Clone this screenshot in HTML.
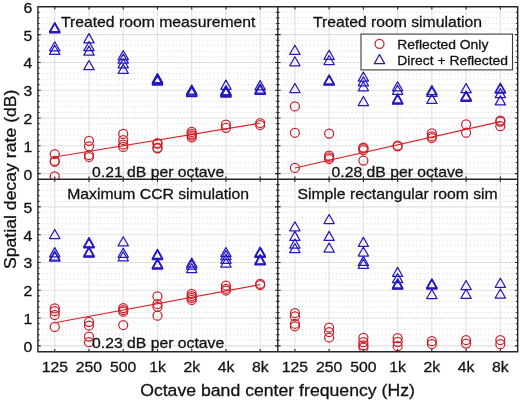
<!DOCTYPE html>
<html lang="en"><head><meta charset="utf-8"><title>Spatial decay rate per octave band</title>
<style>
html,body{margin:0;padding:0;background:#fff}
body{width:520px;height:403px;overflow:hidden}
text{stroke:#111;stroke-width:.3px}
.mj{stroke:#e0e0e0;stroke-width:1.1}
.mn{stroke:#d9d9d9;stroke-width:1;stroke-dasharray:1.2 2.604}
</style></head><body>
<svg width="520" height="403" viewBox="0 0 520 403" style="display:block;font-family:'Liberation Sans',Arial,Helvetica,sans-serif" fill="#111">
<rect width="520" height="403" fill="#fff"/>
<g fill="none"><path class="mn" d="M38.93 168.04H276.80"/><path class="mn" d="M38.93 162.48H276.80"/><path class="mn" d="M38.93 156.93H276.80"/><path class="mn" d="M38.93 151.37H276.80"/><path class="mn" d="M38.93 140.25H276.80"/><path class="mn" d="M38.93 134.69H276.80"/><path class="mn" d="M38.93 129.14H276.80"/><path class="mn" d="M38.93 123.58H276.80"/><path class="mn" d="M38.93 112.46H276.80"/><path class="mn" d="M38.93 106.90H276.80"/><path class="mn" d="M38.93 101.35H276.80"/><path class="mn" d="M38.93 95.79H276.80"/><path class="mn" d="M38.93 84.67H276.80"/><path class="mn" d="M38.93 79.11H276.80"/><path class="mn" d="M38.93 73.56H276.80"/><path class="mn" d="M38.93 68.00H276.80"/><path class="mn" d="M38.93 56.88H276.80"/><path class="mn" d="M38.93 51.32H276.80"/><path class="mn" d="M38.93 45.77H276.80"/><path class="mn" d="M38.93 40.21H276.80"/><path class="mn" d="M38.93 29.09H276.80"/><path class="mn" d="M38.93 23.53H276.80"/><path class="mn" d="M38.93 17.98H276.80"/><path class="mn" d="M38.93 12.42H276.80"/><path class="mj" d="M37.90 173.60H277.80"/><path class="mj" d="M37.90 145.81H277.80"/><path class="mj" d="M37.90 118.02H277.80"/><path class="mj" d="M37.90 90.23H277.80"/><path class="mj" d="M37.90 62.44H277.80"/><path class="mj" d="M37.90 34.65H277.80"/><path class="mj" d="M54.75 6.80V179.30"/><path class="mj" d="M88.99 6.80V179.30"/><path class="mj" d="M123.23 6.80V179.30"/><path class="mj" d="M157.47 6.80V179.30"/><path class="mj" d="M191.71 6.80V179.30"/><path class="mj" d="M225.95 6.80V179.30"/><path class="mj" d="M260.19 6.80V179.30"/><path class="mn" d="M38.93 340.29H276.80"/><path class="mn" d="M38.93 334.73H276.80"/><path class="mn" d="M38.93 329.18H276.80"/><path class="mn" d="M38.93 323.62H276.80"/><path class="mn" d="M38.93 312.50H276.80"/><path class="mn" d="M38.93 306.94H276.80"/><path class="mn" d="M38.93 301.39H276.80"/><path class="mn" d="M38.93 295.83H276.80"/><path class="mn" d="M38.93 284.71H276.80"/><path class="mn" d="M38.93 279.15H276.80"/><path class="mn" d="M38.93 273.60H276.80"/><path class="mn" d="M38.93 268.04H276.80"/><path class="mn" d="M38.93 256.92H276.80"/><path class="mn" d="M38.93 251.36H276.80"/><path class="mn" d="M38.93 245.81H276.80"/><path class="mn" d="M38.93 240.25H276.80"/><path class="mn" d="M38.93 229.13H276.80"/><path class="mn" d="M38.93 223.57H276.80"/><path class="mn" d="M38.93 218.02H276.80"/><path class="mn" d="M38.93 212.46H276.80"/><path class="mn" d="M38.93 201.34H276.80"/><path class="mn" d="M38.93 195.78H276.80"/><path class="mn" d="M38.93 190.23H276.80"/><path class="mn" d="M38.93 184.67H276.80"/><path class="mj" d="M37.90 345.85H277.80"/><path class="mj" d="M37.90 318.06H277.80"/><path class="mj" d="M37.90 290.27H277.80"/><path class="mj" d="M37.90 262.48H277.80"/><path class="mj" d="M37.90 234.69H277.80"/><path class="mj" d="M37.90 206.90H277.80"/><path class="mj" d="M54.75 179.30V351.80"/><path class="mj" d="M88.99 179.30V351.80"/><path class="mj" d="M123.23 179.30V351.80"/><path class="mj" d="M157.47 179.30V351.80"/><path class="mj" d="M191.71 179.30V351.80"/><path class="mj" d="M225.95 179.30V351.80"/><path class="mj" d="M260.19 179.30V351.80"/><path class="mn" d="M279.08 168.04H516.70"/><path class="mn" d="M279.08 162.48H516.70"/><path class="mn" d="M279.08 156.93H516.70"/><path class="mn" d="M279.08 151.37H516.70"/><path class="mn" d="M279.08 140.25H516.70"/><path class="mn" d="M279.08 134.69H516.70"/><path class="mn" d="M279.08 129.14H516.70"/><path class="mn" d="M279.08 123.58H516.70"/><path class="mn" d="M279.08 112.46H516.70"/><path class="mn" d="M279.08 106.90H516.70"/><path class="mn" d="M279.08 101.35H516.70"/><path class="mn" d="M279.08 95.79H516.70"/><path class="mn" d="M279.08 84.67H516.70"/><path class="mn" d="M279.08 79.11H516.70"/><path class="mn" d="M279.08 73.56H516.70"/><path class="mn" d="M279.08 68.00H516.70"/><path class="mn" d="M279.08 56.88H516.70"/><path class="mn" d="M279.08 51.32H516.70"/><path class="mn" d="M279.08 45.77H516.70"/><path class="mn" d="M279.08 40.21H516.70"/><path class="mn" d="M279.08 29.09H516.70"/><path class="mn" d="M279.08 23.53H516.70"/><path class="mn" d="M279.08 17.98H516.70"/><path class="mn" d="M279.08 12.42H516.70"/><path class="mj" d="M277.80 173.60H517.70"/><path class="mj" d="M277.80 145.81H517.70"/><path class="mj" d="M277.80 118.02H517.70"/><path class="mj" d="M277.80 90.23H517.70"/><path class="mj" d="M277.80 62.44H517.70"/><path class="mj" d="M277.80 34.65H517.70"/><path class="mj" d="M294.90 6.80V179.30"/><path class="mj" d="M329.14 6.80V179.30"/><path class="mj" d="M363.38 6.80V179.30"/><path class="mj" d="M397.62 6.80V179.30"/><path class="mj" d="M431.86 6.80V179.30"/><path class="mj" d="M466.10 6.80V179.30"/><path class="mj" d="M500.34 6.80V179.30"/><path class="mn" d="M279.08 340.29H516.70"/><path class="mn" d="M279.08 334.73H516.70"/><path class="mn" d="M279.08 329.18H516.70"/><path class="mn" d="M279.08 323.62H516.70"/><path class="mn" d="M279.08 312.50H516.70"/><path class="mn" d="M279.08 306.94H516.70"/><path class="mn" d="M279.08 301.39H516.70"/><path class="mn" d="M279.08 295.83H516.70"/><path class="mn" d="M279.08 284.71H516.70"/><path class="mn" d="M279.08 279.15H516.70"/><path class="mn" d="M279.08 273.60H516.70"/><path class="mn" d="M279.08 268.04H516.70"/><path class="mn" d="M279.08 256.92H516.70"/><path class="mn" d="M279.08 251.36H516.70"/><path class="mn" d="M279.08 245.81H516.70"/><path class="mn" d="M279.08 240.25H516.70"/><path class="mn" d="M279.08 229.13H516.70"/><path class="mn" d="M279.08 223.57H516.70"/><path class="mn" d="M279.08 218.02H516.70"/><path class="mn" d="M279.08 212.46H516.70"/><path class="mn" d="M279.08 201.34H516.70"/><path class="mn" d="M279.08 195.78H516.70"/><path class="mn" d="M279.08 190.23H516.70"/><path class="mn" d="M279.08 184.67H516.70"/><path class="mj" d="M277.80 345.85H517.70"/><path class="mj" d="M277.80 318.06H517.70"/><path class="mj" d="M277.80 290.27H517.70"/><path class="mj" d="M277.80 262.48H517.70"/><path class="mj" d="M277.80 234.69H517.70"/><path class="mj" d="M277.80 206.90H517.70"/><path class="mj" d="M294.90 179.30V351.80"/><path class="mj" d="M329.14 179.30V351.80"/><path class="mj" d="M363.38 179.30V351.80"/><path class="mj" d="M397.62 179.30V351.80"/><path class="mj" d="M431.86 179.30V351.80"/><path class="mj" d="M466.10 179.30V351.80"/><path class="mj" d="M500.34 179.30V351.80"/></g>
<path d="M54.75 157.0L260.19 123.25" stroke="#dc2029" stroke-width="1.15" fill="none"/>
<path d="M294.90 168.0L500.34 121.6" stroke="#dc2029" stroke-width="1.15" fill="none"/>
<path d="M54.75 322.8L260.19 284.6" stroke="#dc2029" stroke-width="1.15" fill="none"/>
<defs><clipPath id="cTL"><rect x="37.9" y="6.8" width="239.90" height="172.50"/></clipPath><clipPath id="cTR"><rect x="277.8" y="6.8" width="239.90" height="172.50"/></clipPath><clipPath id="cBL"><rect x="37.9" y="179.3" width="239.90" height="172.50"/></clipPath><clipPath id="cBR"><rect x="277.8" y="179.3" width="239.90" height="172.50"/></clipPath></defs>
<g fill="none" stroke="#2418c0" stroke-width="1.25" stroke-linejoin="round"><g clip-path="url(#cTL)"><path d="M49.60 31.65L54.75 22.55L59.90 31.65Z"/><path d="M49.60 32.25L54.75 23.15L59.90 32.25Z"/><path d="M49.60 32.85L54.75 23.75L59.90 32.85Z"/><path d="M49.60 50.80L54.75 41.70L59.90 50.80Z"/><path d="M49.60 54.30L54.75 45.20L59.90 54.30Z"/><path d="M83.84 42.75L88.99 33.65L94.14 42.75Z"/><path d="M83.84 50.65L88.99 41.55L94.14 50.65Z"/><path d="M83.84 55.15L88.99 46.05L94.14 55.15Z"/><path d="M83.84 69.65L88.99 60.55L94.14 69.65Z"/><path d="M118.08 59.65L123.23 50.55L128.38 59.65Z"/><path d="M118.08 63.15L123.23 54.05L128.38 63.15Z"/><path d="M118.08 67.75L123.23 58.65L128.38 67.75Z"/><path d="M118.08 73.45L123.23 64.35L128.38 73.45Z"/><path d="M152.32 82.65L157.47 73.55L162.62 82.65Z"/><path d="M152.32 83.45L157.47 74.35L162.62 83.45Z"/><path d="M152.32 84.25L157.47 75.15L162.62 84.25Z"/><path d="M152.32 85.05L157.47 75.95L162.62 85.05Z"/><path d="M186.56 94.15L191.71 85.05L196.86 94.15Z"/><path d="M186.56 94.95L191.71 85.85L196.86 94.95Z"/><path d="M186.56 95.75L191.71 86.65L196.86 95.75Z"/><path d="M186.56 96.55L191.71 87.45L196.86 96.55Z"/><path d="M220.80 89.25L225.95 80.15L231.10 89.25Z"/><path d="M220.80 94.65L225.95 85.55L231.10 94.65Z"/><path d="M220.80 95.45L225.95 86.35L231.10 95.45Z"/><path d="M220.80 96.25L225.95 87.15L231.10 96.25Z"/><path d="M220.80 97.05L225.95 87.95L231.10 97.05Z"/><path d="M255.04 89.75L260.19 80.65L265.34 89.75Z"/><path d="M255.04 93.15L260.19 84.05L265.34 93.15Z"/><path d="M255.04 93.75L260.19 84.65L265.34 93.75Z"/><path d="M255.04 94.35L260.19 85.25L265.34 94.35Z"/></g><g clip-path="url(#cTR)"><path d="M289.75 54.30L294.90 45.20L300.05 54.30Z"/><path d="M289.75 65.80L294.90 56.70L300.05 65.80Z"/><path d="M289.75 92.55L294.90 83.45L300.05 92.55Z"/><path d="M323.99 59.30L329.14 50.20L334.29 59.30Z"/><path d="M323.99 64.55L329.14 55.45L334.29 64.55Z"/><path d="M323.99 83.95L329.14 74.85L334.29 83.95Z"/><path d="M323.99 84.55L329.14 75.45L334.29 84.55Z"/><path d="M323.99 85.15L329.14 76.05L334.29 85.15Z"/><path d="M358.23 81.15L363.38 72.05L368.53 81.15Z"/><path d="M358.23 85.80L363.38 76.70L368.53 85.80Z"/><path d="M358.23 90.80L363.38 81.70L368.53 90.80Z"/><path d="M358.23 105.55L363.38 96.45L368.53 105.55Z"/><path d="M392.47 90.80L397.62 81.70L402.77 90.80Z"/><path d="M392.47 94.30L397.62 85.20L402.77 94.30Z"/><path d="M392.47 102.95L397.62 93.85L402.77 102.95Z"/><path d="M392.47 103.55L397.62 94.45L402.77 103.55Z"/><path d="M392.47 104.15L397.62 95.05L402.77 104.15Z"/><path d="M426.71 94.65L431.86 85.55L437.01 94.65Z"/><path d="M426.71 96.35L431.86 87.25L437.01 96.35Z"/><path d="M426.71 103.45L431.86 94.35L437.01 103.45Z"/><path d="M460.95 92.65L466.10 83.55L471.25 92.65Z"/><path d="M460.95 100.05L466.10 90.95L471.25 100.05Z"/><path d="M460.95 100.65L466.10 91.55L471.25 100.65Z"/><path d="M460.95 101.25L466.10 92.15L471.25 101.25Z"/><path d="M495.19 92.25L500.34 83.15L505.49 92.25Z"/><path d="M495.19 93.15L500.34 84.05L505.49 93.15Z"/><path d="M495.19 97.65L500.34 88.55L505.49 97.65Z"/><path d="M495.19 104.85L500.34 95.75L505.49 104.85Z"/></g><g clip-path="url(#cBL)"><path d="M49.60 238.55L54.75 229.45L59.90 238.55Z"/><path d="M49.60 256.75L54.75 247.65L59.90 256.75Z"/><path d="M49.60 260.05L54.75 250.95L59.90 260.05Z"/><path d="M49.60 261.15L54.75 252.05L59.90 261.15Z"/><path d="M83.84 246.75L88.99 237.65L94.14 246.75Z"/><path d="M83.84 247.35L88.99 238.25L94.14 247.35Z"/><path d="M83.84 247.95L88.99 238.85L94.14 247.95Z"/><path d="M83.84 255.95L88.99 246.85L94.14 255.95Z"/><path d="M83.84 256.55L88.99 247.45L94.14 256.55Z"/><path d="M83.84 257.15L88.99 248.05L94.14 257.15Z"/><path d="M118.08 245.80L123.23 236.70L128.38 245.80Z"/><path d="M118.08 257.30L123.23 248.20L128.38 257.30Z"/><path d="M118.08 260.80L123.23 251.70L128.38 260.80Z"/><path d="M152.32 258.45L157.47 249.35L162.62 258.45Z"/><path d="M152.32 259.05L157.47 249.95L162.62 259.05Z"/><path d="M152.32 259.65L157.47 250.55L162.62 259.65Z"/><path d="M152.32 267.85L157.47 258.75L162.62 267.85Z"/><path d="M152.32 268.45L157.47 259.35L162.62 268.45Z"/><path d="M152.32 269.05L157.47 259.95L162.62 269.05Z"/><path d="M186.56 267.05L191.71 257.95L196.86 267.05Z"/><path d="M186.56 269.05L191.71 259.95L196.86 269.05Z"/><path d="M186.56 272.55L191.71 263.45L196.86 272.55Z"/><path d="M220.80 256.55L225.95 247.45L231.10 256.55Z"/><path d="M220.80 259.55L225.95 250.45L231.10 259.55Z"/><path d="M220.80 263.30L225.95 254.20L231.10 263.30Z"/><path d="M220.80 267.05L225.95 257.95L231.10 267.05Z"/><path d="M255.04 256.15L260.19 247.05L265.34 256.15Z"/><path d="M255.04 256.75L260.19 247.65L265.34 256.75Z"/><path d="M255.04 257.35L260.19 248.25L265.34 257.35Z"/><path d="M255.04 263.75L260.19 254.65L265.34 263.75Z"/><path d="M255.04 264.35L260.19 255.25L265.34 264.35Z"/><path d="M255.04 264.95L260.19 255.85L265.34 264.95Z"/></g><g clip-path="url(#cBR)"><path d="M289.75 230.80L294.90 221.70L300.05 230.80Z"/><path d="M289.75 240.45L294.90 231.35L300.05 240.45Z"/><path d="M289.75 248.05L294.90 238.95L300.05 248.05Z"/><path d="M289.75 252.55L294.90 243.45L300.05 252.55Z"/><path d="M323.99 223.55L329.14 214.45L334.29 223.55Z"/><path d="M323.99 240.45L329.14 231.35L334.29 240.45Z"/><path d="M323.99 252.05L329.14 242.95L334.29 252.05Z"/><path d="M358.23 246.45L363.38 237.35L368.53 246.45Z"/><path d="M358.23 256.05L363.38 246.95L368.53 256.05Z"/><path d="M358.23 265.45L363.38 256.35L368.53 265.45Z"/><path d="M358.23 268.30L363.38 259.20L368.53 268.30Z"/><path d="M392.47 276.45L397.62 267.35L402.77 276.45Z"/><path d="M392.47 282.65L397.62 273.55L402.77 282.65Z"/><path d="M392.47 287.95L397.62 278.85L402.77 287.95Z"/><path d="M392.47 288.55L397.62 279.45L402.77 288.55Z"/><path d="M392.47 289.15L397.62 280.05L402.77 289.15Z"/><path d="M426.71 287.85L431.86 278.75L437.01 287.85Z"/><path d="M426.71 288.45L431.86 279.35L437.01 288.45Z"/><path d="M426.71 289.05L431.86 279.95L437.01 289.05Z"/><path d="M426.71 298.55L431.86 289.45L437.01 298.55Z"/><path d="M460.95 289.55L466.10 280.45L471.25 289.55Z"/><path d="M460.95 298.30L466.10 289.20L471.25 298.30Z"/><path d="M495.19 287.30L500.34 278.20L505.49 287.30Z"/><path d="M495.19 298.05L500.34 288.95L505.49 298.05Z"/></g></g>
<g fill="none" stroke="#cc1f2b" stroke-width="1.25"><g clip-path="url(#cTL)"><circle cx="54.75" cy="154.00" r="4.5"/><circle cx="54.75" cy="160.90" r="4.5"/><circle cx="54.75" cy="161.60" r="4.5"/><circle cx="54.75" cy="176.40" r="4.5"/><circle cx="88.99" cy="140.80" r="4.5"/><circle cx="88.99" cy="146.25" r="4.5"/><circle cx="88.99" cy="155.00" r="4.5"/><circle cx="88.99" cy="157.00" r="4.5"/><circle cx="123.23" cy="133.90" r="4.5"/><circle cx="123.23" cy="140.00" r="4.5"/><circle cx="123.23" cy="144.50" r="4.5"/><circle cx="123.23" cy="146.90" r="4.5"/><circle cx="157.47" cy="143.00" r="4.5"/><circle cx="157.47" cy="143.60" r="4.5"/><circle cx="157.47" cy="147.70" r="4.5"/><circle cx="157.47" cy="148.30" r="4.5"/><circle cx="191.71" cy="131.90" r="4.5"/><circle cx="191.71" cy="133.80" r="4.5"/><circle cx="191.71" cy="135.60" r="4.5"/><circle cx="191.71" cy="137.40" r="4.5"/><circle cx="225.95" cy="124.70" r="4.5"/><circle cx="225.95" cy="127.80" r="4.5"/><circle cx="260.19" cy="123.00" r="4.5"/><circle cx="260.19" cy="125.00" r="4.5"/></g><g clip-path="url(#cTR)"><circle cx="294.90" cy="106.40" r="4.5"/><circle cx="294.90" cy="132.75" r="4.5"/><circle cx="294.90" cy="167.90" r="4.5"/><circle cx="329.14" cy="133.60" r="4.5"/><circle cx="329.14" cy="155.70" r="4.5"/><circle cx="329.14" cy="157.40" r="4.5"/><circle cx="329.14" cy="159.00" r="4.5"/><circle cx="363.38" cy="147.60" r="4.5"/><circle cx="363.38" cy="148.40" r="4.5"/><circle cx="363.38" cy="150.20" r="4.5"/><circle cx="363.38" cy="160.60" r="4.5"/><circle cx="397.62" cy="145.50" r="4.5"/><circle cx="397.62" cy="146.30" r="4.5"/><circle cx="431.86" cy="133.25" r="4.5"/><circle cx="431.86" cy="136.25" r="4.5"/><circle cx="431.86" cy="138.00" r="4.5"/><circle cx="466.10" cy="124.40" r="4.5"/><circle cx="466.10" cy="132.70" r="4.5"/><circle cx="500.34" cy="120.60" r="4.5"/><circle cx="500.34" cy="121.60" r="4.5"/><circle cx="500.34" cy="126.20" r="4.5"/></g><g clip-path="url(#cBL)"><circle cx="54.75" cy="308.40" r="4.5"/><circle cx="54.75" cy="311.20" r="4.5"/><circle cx="54.75" cy="315.00" r="4.5"/><circle cx="54.75" cy="326.90" r="4.5"/><circle cx="88.99" cy="321.80" r="4.5"/><circle cx="88.99" cy="325.50" r="4.5"/><circle cx="88.99" cy="336.60" r="4.5"/><circle cx="88.99" cy="342.20" r="4.5"/><circle cx="123.23" cy="308.10" r="4.5"/><circle cx="123.23" cy="310.00" r="4.5"/><circle cx="123.23" cy="311.70" r="4.5"/><circle cx="123.23" cy="325.00" r="4.5"/><circle cx="157.47" cy="296.30" r="4.5"/><circle cx="157.47" cy="304.00" r="4.5"/><circle cx="157.47" cy="306.80" r="4.5"/><circle cx="157.47" cy="315.70" r="4.5"/><circle cx="191.71" cy="293.90" r="4.5"/><circle cx="191.71" cy="296.00" r="4.5"/><circle cx="191.71" cy="297.80" r="4.5"/><circle cx="191.71" cy="299.90" r="4.5"/><circle cx="225.95" cy="285.50" r="4.5"/><circle cx="225.95" cy="288.75" r="4.5"/><circle cx="225.95" cy="290.50" r="4.5"/><circle cx="260.19" cy="283.75" r="4.5"/><circle cx="260.19" cy="285.00" r="4.5"/></g><g clip-path="url(#cBR)"><circle cx="294.90" cy="313.00" r="4.5"/><circle cx="294.90" cy="316.25" r="4.5"/><circle cx="294.90" cy="323.75" r="4.5"/><circle cx="294.90" cy="326.25" r="4.5"/><circle cx="329.14" cy="327.50" r="4.5"/><circle cx="329.14" cy="332.00" r="4.5"/><circle cx="329.14" cy="337.50" r="4.5"/><circle cx="363.38" cy="337.80" r="4.5"/><circle cx="363.38" cy="342.20" r="4.5"/><circle cx="363.38" cy="345.30" r="4.5"/><circle cx="363.38" cy="347.50" r="4.5"/><circle cx="397.62" cy="338.20" r="4.5"/><circle cx="397.62" cy="341.80" r="4.5"/><circle cx="397.62" cy="346.20" r="4.5"/><circle cx="431.86" cy="341.20" r="4.5"/><circle cx="431.86" cy="344.00" r="4.5"/><circle cx="466.10" cy="340.00" r="4.5"/><circle cx="466.10" cy="343.60" r="4.5"/><circle cx="500.34" cy="340.00" r="4.5"/><circle cx="500.34" cy="344.20" r="4.5"/></g></g>
<path fill="none" stroke="#262626" stroke-width="1.4" d="M37.9 6.8H517.7V351.8H37.9Z M277.8 6.8V351.8 M37.9 179.3H517.7"/>
<g fill="none" stroke="#262626" stroke-width="1.1"><path d="M54.75 6.8v2.8 M54.75 176.5v5.6 M54.75 351.8v-2.8"/><path d="M88.99 6.8v2.8 M88.99 176.5v5.6 M88.99 351.8v-2.8"/><path d="M123.23 6.8v2.8 M123.23 176.5v5.6 M123.23 351.8v-2.8"/><path d="M157.47 6.8v2.8 M157.47 176.5v5.6 M157.47 351.8v-2.8"/><path d="M191.71 6.8v2.8 M191.71 176.5v5.6 M191.71 351.8v-2.8"/><path d="M225.95 6.8v2.8 M225.95 176.5v5.6 M225.95 351.8v-2.8"/><path d="M260.19 6.8v2.8 M260.19 176.5v5.6 M260.19 351.8v-2.8"/><path d="M294.90 6.8v2.8 M294.90 176.5v5.6 M294.90 351.8v-2.8"/><path d="M329.14 6.8v2.8 M329.14 176.5v5.6 M329.14 351.8v-2.8"/><path d="M363.38 6.8v2.8 M363.38 176.5v5.6 M363.38 351.8v-2.8"/><path d="M397.62 6.8v2.8 M397.62 176.5v5.6 M397.62 351.8v-2.8"/><path d="M431.86 6.8v2.8 M431.86 176.5v5.6 M431.86 351.8v-2.8"/><path d="M466.10 6.8v2.8 M466.10 176.5v5.6 M466.10 351.8v-2.8"/><path d="M500.34 6.8v2.8 M500.34 176.5v5.6 M500.34 351.8v-2.8"/><path d="M37.9 173.60h2.8 M275.0 173.60h5.6 M517.7 173.60h-2.8"/><path d="M37.9 168.04h1.6 M276.2 168.04h3.2 M517.7 168.04h-1.6"/><path d="M37.9 162.48h1.6 M276.2 162.48h3.2 M517.7 162.48h-1.6"/><path d="M37.9 156.93h1.6 M276.2 156.93h3.2 M517.7 156.93h-1.6"/><path d="M37.9 151.37h1.6 M276.2 151.37h3.2 M517.7 151.37h-1.6"/><path d="M37.9 145.81h2.8 M275.0 145.81h5.6 M517.7 145.81h-2.8"/><path d="M37.9 140.25h1.6 M276.2 140.25h3.2 M517.7 140.25h-1.6"/><path d="M37.9 134.69h1.6 M276.2 134.69h3.2 M517.7 134.69h-1.6"/><path d="M37.9 129.14h1.6 M276.2 129.14h3.2 M517.7 129.14h-1.6"/><path d="M37.9 123.58h1.6 M276.2 123.58h3.2 M517.7 123.58h-1.6"/><path d="M37.9 118.02h2.8 M275.0 118.02h5.6 M517.7 118.02h-2.8"/><path d="M37.9 112.46h1.6 M276.2 112.46h3.2 M517.7 112.46h-1.6"/><path d="M37.9 106.90h1.6 M276.2 106.90h3.2 M517.7 106.90h-1.6"/><path d="M37.9 101.35h1.6 M276.2 101.35h3.2 M517.7 101.35h-1.6"/><path d="M37.9 95.79h1.6 M276.2 95.79h3.2 M517.7 95.79h-1.6"/><path d="M37.9 90.23h2.8 M275.0 90.23h5.6 M517.7 90.23h-2.8"/><path d="M37.9 84.67h1.6 M276.2 84.67h3.2 M517.7 84.67h-1.6"/><path d="M37.9 79.11h1.6 M276.2 79.11h3.2 M517.7 79.11h-1.6"/><path d="M37.9 73.56h1.6 M276.2 73.56h3.2 M517.7 73.56h-1.6"/><path d="M37.9 68.00h1.6 M276.2 68.00h3.2 M517.7 68.00h-1.6"/><path d="M37.9 62.44h2.8 M275.0 62.44h5.6 M517.7 62.44h-2.8"/><path d="M37.9 56.88h1.6 M276.2 56.88h3.2 M517.7 56.88h-1.6"/><path d="M37.9 51.32h1.6 M276.2 51.32h3.2 M517.7 51.32h-1.6"/><path d="M37.9 45.77h1.6 M276.2 45.77h3.2 M517.7 45.77h-1.6"/><path d="M37.9 40.21h1.6 M276.2 40.21h3.2 M517.7 40.21h-1.6"/><path d="M37.9 34.65h2.8 M275.0 34.65h5.6 M517.7 34.65h-2.8"/><path d="M37.9 29.09h1.6 M276.2 29.09h3.2 M517.7 29.09h-1.6"/><path d="M37.9 23.53h1.6 M276.2 23.53h3.2 M517.7 23.53h-1.6"/><path d="M37.9 17.98h1.6 M276.2 17.98h3.2 M517.7 17.98h-1.6"/><path d="M37.9 12.42h1.6 M276.2 12.42h3.2 M517.7 12.42h-1.6"/><path d="M37.9 345.85h2.8 M275.0 345.85h5.6 M517.7 345.85h-2.8"/><path d="M37.9 340.29h1.6 M276.2 340.29h3.2 M517.7 340.29h-1.6"/><path d="M37.9 334.73h1.6 M276.2 334.73h3.2 M517.7 334.73h-1.6"/><path d="M37.9 329.18h1.6 M276.2 329.18h3.2 M517.7 329.18h-1.6"/><path d="M37.9 323.62h1.6 M276.2 323.62h3.2 M517.7 323.62h-1.6"/><path d="M37.9 318.06h2.8 M275.0 318.06h5.6 M517.7 318.06h-2.8"/><path d="M37.9 312.50h1.6 M276.2 312.50h3.2 M517.7 312.50h-1.6"/><path d="M37.9 306.94h1.6 M276.2 306.94h3.2 M517.7 306.94h-1.6"/><path d="M37.9 301.39h1.6 M276.2 301.39h3.2 M517.7 301.39h-1.6"/><path d="M37.9 295.83h1.6 M276.2 295.83h3.2 M517.7 295.83h-1.6"/><path d="M37.9 290.27h2.8 M275.0 290.27h5.6 M517.7 290.27h-2.8"/><path d="M37.9 284.71h1.6 M276.2 284.71h3.2 M517.7 284.71h-1.6"/><path d="M37.9 279.15h1.6 M276.2 279.15h3.2 M517.7 279.15h-1.6"/><path d="M37.9 273.60h1.6 M276.2 273.60h3.2 M517.7 273.60h-1.6"/><path d="M37.9 268.04h1.6 M276.2 268.04h3.2 M517.7 268.04h-1.6"/><path d="M37.9 262.48h2.8 M275.0 262.48h5.6 M517.7 262.48h-2.8"/><path d="M37.9 256.92h1.6 M276.2 256.92h3.2 M517.7 256.92h-1.6"/><path d="M37.9 251.36h1.6 M276.2 251.36h3.2 M517.7 251.36h-1.6"/><path d="M37.9 245.81h1.6 M276.2 245.81h3.2 M517.7 245.81h-1.6"/><path d="M37.9 240.25h1.6 M276.2 240.25h3.2 M517.7 240.25h-1.6"/><path d="M37.9 234.69h2.8 M275.0 234.69h5.6 M517.7 234.69h-2.8"/><path d="M37.9 229.13h1.6 M276.2 229.13h3.2 M517.7 229.13h-1.6"/><path d="M37.9 223.57h1.6 M276.2 223.57h3.2 M517.7 223.57h-1.6"/><path d="M37.9 218.02h1.6 M276.2 218.02h3.2 M517.7 218.02h-1.6"/><path d="M37.9 212.46h1.6 M276.2 212.46h3.2 M517.7 212.46h-1.6"/><path d="M37.9 206.90h2.8 M275.0 206.90h5.6 M517.7 206.90h-2.8"/><path d="M37.9 201.34h1.6 M276.2 201.34h3.2 M517.7 201.34h-1.6"/><path d="M37.9 195.78h1.6 M276.2 195.78h3.2 M517.7 195.78h-1.6"/><path d="M37.9 190.23h1.6 M276.2 190.23h3.2 M517.7 190.23h-1.6"/><path d="M37.9 184.67h1.6 M276.2 184.67h3.2 M517.7 184.67h-1.6"/></g>
<rect x="361.0" y="34.1" width="151.5" height="35.8" fill="#fff" stroke="#3c3c3c" stroke-width="1.1"/>
<g fill="none" stroke="#cc1f2b" stroke-width="1.25"><circle cx="379.50" cy="43.80" r="4.5"/></g>
<g fill="none" stroke="#2418c0" stroke-width="1.25" stroke-linejoin="round"><path d="M374.35 63.65L379.50 54.55L384.65 63.65Z"/></g>
<text transform="translate(397.30 48.80) scale(1 0.925)" font-size="13.9">Reflected Only</text>
<text transform="translate(397.30 65.00) scale(1 0.925)" font-size="13.9">Direct + Reflected</text>
<text transform="translate(158.15 26.90) scale(1 0.925)" font-size="15.75" text-anchor="middle">Treated room measurement</text>
<text transform="translate(397.55 26.90) scale(1 0.925)" font-size="15.75" text-anchor="middle">Treated room simulation</text>
<text transform="translate(158.15 198.80) scale(1 0.925)" font-size="15.75" text-anchor="middle">Maximum CCR simulation</text>
<text transform="translate(397.55 198.60) scale(1 0.925)" font-size="15.75" text-anchor="middle">Simple rectangular room sim</text>
<text transform="translate(158.15 176.70) scale(1 0.925)" font-size="15.75" text-anchor="middle">0.21 dB per octave</text>
<text transform="translate(397.55 176.70) scale(1 0.925)" font-size="15.75" text-anchor="middle">0.28 dB per octave</text>
<text transform="translate(158.15 348.40) scale(1 0.925)" font-size="15.75" text-anchor="middle">0.23 dB per octave</text>
<text transform="translate(54.75 371.70) scale(1 0.925)" font-size="15.75" text-anchor="middle">125</text>
<text transform="translate(88.99 371.70) scale(1 0.925)" font-size="15.75" text-anchor="middle">250</text>
<text transform="translate(123.23 371.70) scale(1 0.925)" font-size="15.75" text-anchor="middle">500</text>
<text transform="translate(157.47 371.70) scale(1 0.925)" font-size="15.75" text-anchor="middle">1k</text>
<text transform="translate(191.71 371.70) scale(1 0.925)" font-size="15.75" text-anchor="middle">2k</text>
<text transform="translate(225.95 371.70) scale(1 0.925)" font-size="15.75" text-anchor="middle">4k</text>
<text transform="translate(260.19 371.70) scale(1 0.925)" font-size="15.75" text-anchor="middle">8k</text>
<text transform="translate(294.90 371.70) scale(1 0.925)" font-size="15.75" text-anchor="middle">125</text>
<text transform="translate(329.14 371.70) scale(1 0.925)" font-size="15.75" text-anchor="middle">250</text>
<text transform="translate(363.38 371.70) scale(1 0.925)" font-size="15.75" text-anchor="middle">500</text>
<text transform="translate(397.62 371.70) scale(1 0.925)" font-size="15.75" text-anchor="middle">1k</text>
<text transform="translate(431.86 371.70) scale(1 0.925)" font-size="15.75" text-anchor="middle">2k</text>
<text transform="translate(466.10 371.70) scale(1 0.925)" font-size="15.75" text-anchor="middle">4k</text>
<text transform="translate(500.34 371.70) scale(1 0.925)" font-size="15.75" text-anchor="middle">8k</text>
<text transform="translate(32.20 179.60) scale(1 0.925)" font-size="15.75" text-anchor="end">0</text>
<text transform="translate(32.20 151.81) scale(1 0.925)" font-size="15.75" text-anchor="end">1</text>
<text transform="translate(32.20 124.02) scale(1 0.925)" font-size="15.75" text-anchor="end">2</text>
<text transform="translate(32.20 96.23) scale(1 0.925)" font-size="15.75" text-anchor="end">3</text>
<text transform="translate(32.20 68.44) scale(1 0.925)" font-size="15.75" text-anchor="end">4</text>
<text transform="translate(32.20 40.65) scale(1 0.925)" font-size="15.75" text-anchor="end">5</text>
<text transform="translate(32.20 12.86) scale(1 0.925)" font-size="15.75" text-anchor="end">6</text>
<text transform="translate(32.20 351.85) scale(1 0.925)" font-size="15.75" text-anchor="end">0</text>
<text transform="translate(32.20 324.06) scale(1 0.925)" font-size="15.75" text-anchor="end">1</text>
<text transform="translate(32.20 296.27) scale(1 0.925)" font-size="15.75" text-anchor="end">2</text>
<text transform="translate(32.20 268.48) scale(1 0.925)" font-size="15.75" text-anchor="end">3</text>
<text transform="translate(32.20 240.69) scale(1 0.925)" font-size="15.75" text-anchor="end">4</text>
<text transform="translate(32.20 212.90) scale(1 0.925)" font-size="15.75" text-anchor="end">5</text>
<text transform="translate(277.50 395.50) scale(1 0.925)" font-size="17.65" text-anchor="middle">Octave band center frequency (Hz)</text>
<text transform="translate(16.00 179.30) rotate(-90) scale(1 0.925)" font-size="17.65" text-anchor="middle">Spatial decay rate (dB)</text>
</svg>
</body></html>
